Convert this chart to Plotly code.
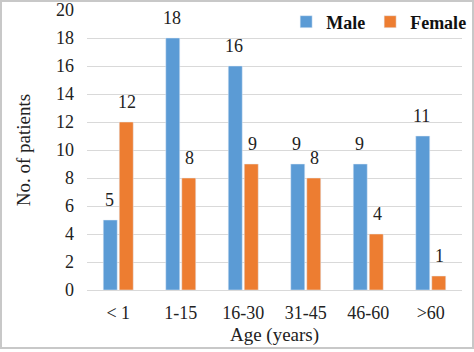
import plotly.graph_objects as go

categories = ["< 1", "1-15", "16-30", "31-45", "46-60", ">60"]
male = [5, 18, 16, 9, 9, 11]
female = [12, 8, 9, 8, 4, 1]

FONT = "Liberation Serif"
W, H = 474, 352
ML, MR, MT, MB = 87, 12, 10, 62

fig = go.Figure()
fig.add_trace(go.Bar(name="Male", x=categories, y=male, marker_color="#5B9BD5"))
fig.add_trace(go.Bar(name="Female", x=categories, y=female, marker_color="#ED7D31"))

annotations = []
for series, shift in ((male, -9), (female, 9)):
    for c, v in zip(categories, series):
        annotations.append(dict(x=c, y=v, xref="x", yref="y", text=str(v), showarrow=False,
                                xshift=shift, yanchor="bottom", yshift=8,
                                font=dict(family=FONT, size=18, color="#222")))

pw = W - ML - MR
ph = H - MT - MB
fig.update_layout(
    width=W, height=H,
    margin=dict(l=ML, r=MR, t=MT, b=MB, autoexpand=False),
    paper_bgcolor="white", plot_bgcolor="white",
    barmode="group", bargap=0.488, bargroupgap=0.125,
    font=dict(family=FONT, size=17, color="#222"),
    annotations=annotations,
    legend=dict(orientation="h", xref="container", yref="container",
                x=0.994, xanchor="right", y=1 - 22 / H, yanchor="middle",
                font=dict(family=FONT, size=18, color="#111", weight="bold"),
                bgcolor="rgba(0,0,0,0)", itemwidth=30, tracegroupgap=0,
                traceorder="normal"),
    xaxis=dict(showgrid=False, showline=False, ticks="", ticklabelstandoff=10,
               tickfont=dict(family=FONT, size=18, color="#222"),
               title=dict(text="Age (years)", font=dict(family=FONT, size=19, color="#222"), standoff=5)),
    yaxis=dict(range=[0, 20], dtick=2, showgrid=True, gridcolor="#d9d9d9", gridwidth=1,
               zeroline=True, zerolinecolor="#d9d9d9", zerolinewidth=1,
               showline=False, ticks="", ticklabelstandoff=12,
               tickfont=dict(family=FONT, size=18, color="#222"),
               title=dict(text="No. of patients", font=dict(family=FONT, size=19, color="#222"), standoff=20)),
    shapes=[dict(type="rect", xref="paper", yref="paper",
                 x0=(1 - ML) / pw, x1=(W - 1 - ML) / pw,
                 y0=(H - MB - (H - 4)) / ph, y1=(H - MB - 1) / ph,
                 line=dict(color="#c8c8c8", width=2), fillcolor="rgba(0,0,0,0)", layer="below")],
)

fig.write_html("out.html")
